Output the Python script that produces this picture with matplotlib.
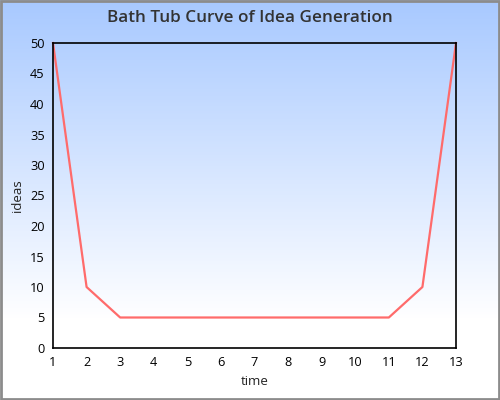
import numpy as np
import matplotlib.pyplot as plt
from matplotlib.colors import LinearSegmentedColormap
from matplotlib.patches import Rectangle

time = list(range(1, 14))
ideas = [50, 10, 5, 5, 5, 5, 5, 5, 5, 5, 5, 10, 50]
yticks = list(range(0, 55, 5))

plt.rcParams['font.family'] = ['Open Sans', 'DejaVu Sans']

fig = plt.figure(figsize=(5, 4), dpi=100)

# background gradient, light blue at top fading to white
bg = fig.add_axes([0, 0, 1, 1], zorder=-10)
grad = np.linspace(0, 1, 400).reshape(-1, 1)
cmap = LinearSegmentedColormap.from_list('bg', [(0, '#ffffff'), (0.2, '#ffffff'), (1, '#a8c9ff')])
bg.imshow(grad, aspect='auto', cmap=cmap, origin='lower', extent=[0, 1, 0, 1])
bg.axis('off')
fig.patches.append(Rectangle((0.002, 0.002), 0.996, 0.996, transform=fig.transFigure,
                             fill=False, edgecolor='#8c8c8c', linewidth=2))

ax = fig.add_axes([0.106, 0.13, 0.806, 0.7625])
ax.patch.set_alpha(0)
ax.plot(time, ideas, color='#ff6b6b', linewidth=1.6, clip_on=False)
ax.set_xlim(1, 13)
ax.set_ylim(0, 50)
ax.set_xticks(time)
ax.set_yticks(yticks)
ax.tick_params(length=0, labelsize=9.2, pad=6)
for s in ax.spines.values():
    s.set_linewidth(1.2)
ax.set_xlabel('time', fontsize=9.5, color='#222222')
ax.set_ylabel('ideas', fontsize=9.5, color='#222222')
fig.text(0.5, 0.955, 'Bath Tub Curve of Idea Generation', ha='center', va='center',
         fontsize=12.3, fontweight='semibold', color='#333333')

fig.savefig('out.png', dpi=100)
